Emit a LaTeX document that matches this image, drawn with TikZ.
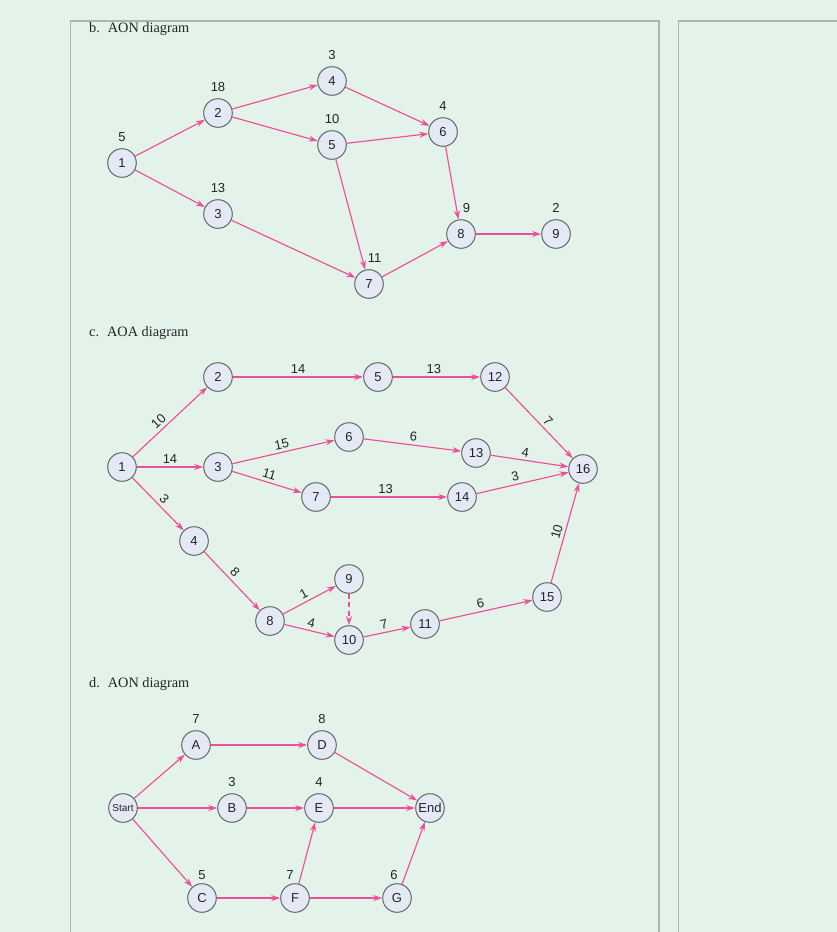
\documentclass[tikz,border=0pt]{standalone}
\usepackage{fontspec}
\setmainfont{Liberation Sans}
\newfontfamily\titlefont{Liberation Serif}
\usetikzlibrary{arrows.meta}
\definecolor{bgcol}{RGB}{228,243,234}
\definecolor{panelgray}{RGB}{172,180,174}
\definecolor{edgepink}{RGB}{240,78,150}
\definecolor{nodefill}{RGB}{227,234,245}
\definecolor{nodeline}{RGB}{100,102,102}
\definecolor{txt}{RGB}{35,35,40}
\tikzset{
  act/.style={circle,draw=nodeline,line width=1pt,fill=nodefill,minimum size=28.6pt,inner sep=0pt,text=txt,font=\fontsize{13}{15}\selectfont},
  dur/.style={inner sep=0pt,text=txt,font=\fontsize{13}{15}\selectfont},
  conn/.style={draw=edgepink,line width=1.15pt,-{Stealth[length=9pt,width=6pt]}},
  elbl/.style={inner sep=3pt,text=txt,font=\fontsize{13}{15}\selectfont,sloped,above},
  heading/.style={anchor=base west,inner sep=0pt,text=txt,font=\titlefont\fontsize{14.3}{17}\selectfont},
  panel/.style={draw=panelgray,line width=1.2pt}
}
\begin{document}
\begin{tikzpicture}[x=1pt,y=-1pt,label distance=6.5pt]
  \fill[bgcol] (0,0) rectangle (837,932);
  \useasboundingbox (0,0) rectangle (837,932);
  \draw[panel] (70.5,932) -- (70.5,21) -- (659,21) -- (659,932);
  \draw[panel] (678.5,932) -- (678.5,21) -- (837,21);

  % b. AON diagram
  \node[heading] (titleb) at (89,32) {b.\hspace{8pt}AON diagram};
  \node[act,label={[dur]above:5}] (b1) at (122,163) {1};
  \node[act,label={[dur]above:18}] (b2) at (218,113) {2};
  \node[act,label={[dur]above:13}] (b3) at (218,214) {3};
  \node[act,label={[dur]above:3}] (b4) at (332,81) {4};
  \node[act,label={[dur]above:10}] (b5) at (332,145) {5};
  \node[act,label={[dur]above:4}] (b6) at (443,132) {6};
  \node[act,label={[dur,xshift=5.5pt]above:11}] (b7) at (369,284) {7};
  \node[act,label={[dur,xshift=5.5pt]above:9}] (b8) at (461,234) {8};
  \node[act,label={[dur]above:2}] (b9) at (556,234) {9};
  \draw[conn] (b1) -- (b2);
  \draw[conn] (b1) -- (b3);
  \draw[conn] (b2) -- (b4);
  \draw[conn] (b2) -- (b5);
  \draw[conn] (b4) -- (b6);
  \draw[conn] (b5) -- (b6);
  \draw[conn] (b5) -- (b7);
  \draw[conn] (b3) -- (b7);
  \draw[conn] (b6) -- (b8);
  \draw[conn] (b7) -- (b8);
  \draw[conn] (b8) -- (b9);

  % c. AOA diagram
  \node[heading] (titlec) at (89,336) {c.\hspace{8pt}AOA diagram};
  \node[act] (c1) at (122,467) {1};
  \node[act] (c2) at (218,377) {2};
  \node[act] (c3) at (218,467) {3};
  \node[act] (c4) at (194,541) {4};
  \node[act] (c5) at (378,377) {5};
  \node[act] (c6) at (349,437) {6};
  \node[act] (c7) at (316,497) {7};
  \node[act] (c8) at (270,621) {8};
  \node[act] (c9) at (349,579) {9};
  \node[act] (c10) at (349,640) {10};
  \node[act] (c11) at (425,624) {11};
  \node[act] (c12) at (495,377) {12};
  \node[act] (c13) at (476,453) {13};
  \node[act] (c14) at (462,497) {14};
  \node[act] (c15) at (547,597) {15};
  \node[act] (c16) at (583,469) {16};
  \draw[conn] (c1) -- node[elbl,pos=.42]{10} (c2);
  \draw[conn] (c1) -- node[elbl]{14} (c3);
  \draw[conn] (c1) -- node[elbl,pos=.51]{3} (c4);
  \draw[conn] (c2) -- node[elbl]{14} (c5);
  \draw[conn] (c5) -- node[elbl,pos=.47]{13} (c12);
  \draw[conn] (c12) -- node[elbl,pos=.55]{7} (c16);
  \draw[conn] (c3) -- node[elbl]{15} (c6);
  \draw[conn] (c3) -- node[elbl]{11} (c7);
  \draw[conn] (c6) -- node[elbl]{6} (c13);
  \draw[conn] (c13) -- node[elbl,pos=.43]{4} (c16);
  \draw[conn] (c7) -- node[elbl,pos=.47]{13} (c14);
  \draw[conn] (c14) -- node[elbl,pos=.44]{3} (c16);
  \draw[conn] (c4) -- node[elbl,pos=.45]{8} (c8);
  \draw[conn] (c8) -- node[elbl,pos=.46]{1} (c9);
  \draw[conn] (c8) -- node[elbl]{4} (c10);
  \draw[conn,dash pattern=on 5pt off 3.5pt] (c9) -- (c10);
  \draw[conn] (c10) -- node[elbl,pos=.47]{7} (c11);
  \draw[conn] (c11) -- node[elbl,pos=.46]{6} (c15);
  \draw[conn] (c15) -- node[elbl,pos=.49]{10} (c16);

  % d. AON diagram
  \node[heading] (titled) at (89,687) {d.\hspace{8pt}AON diagram};
  \node[act,font=\fontsize{10}{12}\selectfont] (dstart) at (123,808) {Start};
  \node[act,label={[dur]above:7}] (dA) at (196,745) {A};
  \node[act,label={[dur]above:3}] (dB) at (232,808) {B};
  \node[act,label={[dur,yshift=-3pt]above:5}] (dC) at (202,898) {C};
  \node[act,label={[dur]above:8}] (dD) at (322,745) {D};
  \node[act,label={[dur]above:4}] (dE) at (319,808) {E};
  \node[act,label={[dur,xshift=-5pt,yshift=-3pt]above:7}] (dF) at (295,898) {F};
  \node[act,label={[dur,xshift=-3pt,yshift=-3pt]above:6}] (dG) at (397,898) {G};
  \node[act] (dend) at (430,808) {End};
  \draw[conn] (dstart) -- (dA);
  \draw[conn] (dstart) -- (dB);
  \draw[conn] (dstart) -- (dC);
  \draw[conn] (dA) -- (dD);
  \draw[conn] (dB) -- (dE);
  \draw[conn] (dD) -- (dend);
  \draw[conn] (dE) -- (dend);
  \draw[conn] (dC) -- (dF);
  \draw[conn] (dF) -- (dE);
  \draw[conn] (dF) -- (dG);
  \draw[conn] (dG) -- (dend);
\end{tikzpicture}
\end{document}
